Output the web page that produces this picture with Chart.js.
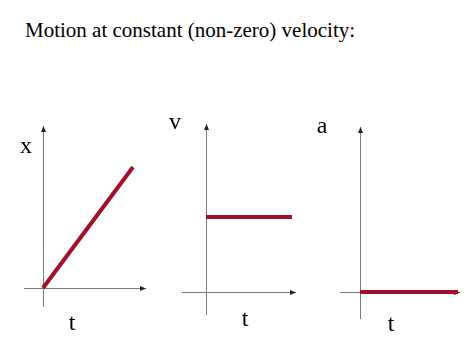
<!DOCTYPE html>
<html>
<head>
<meta charset="utf-8">
<script src="https://cdn.jsdelivr.net/npm/chart.js@4/dist/chart.umd.min.js"></script>
<style>
body { margin: 0; background: #fff; }
#wrap { position: relative; width: 474px; height: 355px; }
#title { position: absolute; left: 25px; top: 20px; font: 21px "Liberation Serif", "Times New Roman", serif; line-height: 21px; color: #000; white-space: nowrap; }
canvas { position: absolute; left: 0; top: 0; }
</style>
</head>
<body>
<div id="wrap">
  <div id="title">Motion at constant (non-zero) velocity:</div>
  <canvas id="c1" width="474" height="355"></canvas>
  <canvas id="c2" width="474" height="355"></canvas>
  <canvas id="c3" width="474" height="355"></canvas>
</div>
<script>
// data for the three graphs (t on the horizontal axis)
const tValues = [0, 1];
const xValues = [0, 1];   // position grows linearly
const vValues = [1, 1];   // velocity constant
const aValues = [0, 0];   // acceleration zero
const yLabels = ['x', 'v', 'a'];
const tLabel = 't';

const lineColor = '#a0102a';

function points(ys) {
  return tValues.map((t, i) => ({ x: t, y: ys[i] }));
}

// draws the two axes through zero with arrow heads, plus the axis letters
const axesPlugin = {
  id: 'axes',
  beforeDatasetsDraw(chart, args, opts) {
    const ctx = chart.ctx;
    const a = chart.chartArea;
    const x0 = Math.round(chart.scales.x.getPixelForValue(0)) + 0.5;
    const y0 = Math.round(chart.scales.y.getPixelForValue(0)) + 0.5;
    ctx.save();
    ctx.strokeStyle = '#7a7a7a';
    ctx.lineWidth = 1;
    ctx.beginPath();
    ctx.moveTo(a.left, y0); ctx.lineTo(a.right, y0);
    ctx.moveTo(x0, a.top); ctx.lineTo(x0, a.bottom);
    ctx.stroke();
    ctx.fillStyle = '#222';
    ctx.beginPath();
    ctx.moveTo(x0, a.top); ctx.lineTo(x0 - 2.5, a.top + 6); ctx.lineTo(x0 + 2.5, a.top + 6);
    ctx.closePath(); ctx.fill();
    ctx.beginPath();
    ctx.moveTo(a.right, y0); ctx.lineTo(a.right - 6, y0 - 2.5); ctx.lineTo(a.right - 6, y0 + 2.5);
    ctx.closePath(); ctx.fill();
    ctx.restore();
  },
  afterDraw(chart, args, opts) {
    const ctx = chart.ctx;
    const a = chart.chartArea;
    const x0 = chart.scales.x.getPixelForValue(0);
    const y0 = chart.scales.y.getPixelForValue(0);
    ctx.save();
    ctx.fillStyle = '#000';
    ctx.font = '24px "Liberation Serif", "Times New Roman", serif';
    ctx.textAlign = 'center';
    ctx.textBaseline = 'alphabetic';
    ctx.fillText(opts.yLabel, x0 + opts.yLabelDx, a.top + opts.yLabelDy);
    ctx.fillText(tLabel, x0 + opts.tLabelDx, y0 + opts.tLabelDy);
    ctx.restore();
  }
};

function makeGraph(id, ys, pad, xr, yr, label) {
  new Chart(document.getElementById(id), {
    type: 'line',
    data: {
      datasets: [{
        data: points(ys),
        borderColor: lineColor,
        borderWidth: 4,
        borderCapStyle: 'butt',
        pointRadius: 0,
        fill: false,
        tension: 0
      }]
    },
    options: {
      responsive: false,
      animation: false,
      layout: { padding: pad },
      scales: {
        x: { type: 'linear', display: false, min: xr[0], max: xr[1] },
        y: { type: 'linear', display: false, min: yr[0], max: yr[1] }
      },
      plugins: {
        legend: { display: false },
        tooltip: { enabled: false },
        axes: label
      }
    },
    plugins: [axesPlugin]
  });
}

makeGraph('c1', xValues,
  { left: 24, right: 328, top: 126, bottom: 48 },
  [-0.211, 1.144], [-0.157, 1.339],
  { yLabel: yLabels[0], yLabelDx: -17, yLabelDy: 27, tLabelDx: 29, tLabelDy: 42 });

makeGraph('c2', vValues,
  { left: 182, right: 178, top: 124, bottom: 40 },
  [-0.279, 1.047], [-0.307, 2.24],
  { yLabel: yLabels[1], yLabelDx: -31, yLabelDy: 5, tLabelDx: 39, tLabelDy: 34 });

makeGraph('c3', aValues,
  { left: 340, right: 14, top: 127, bottom: 36 },
  [-0.204, 1.02], [-0.27, 1.65],
  { yLabel: yLabels[2], yLabelDx: -38, yLabelDy: 6, tLabelDx: 31, tLabelDy: 39 });
</script>
</body>
</html>
